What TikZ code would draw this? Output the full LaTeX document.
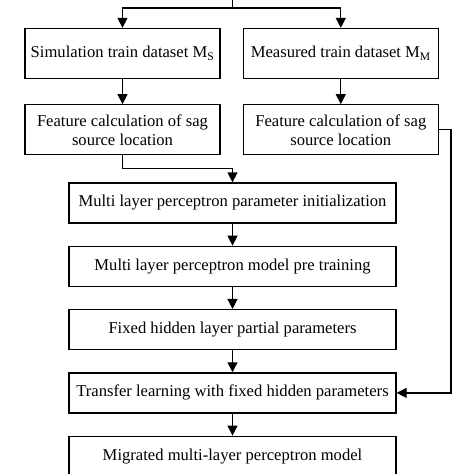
\documentclass[tikz,border=0pt]{standalone}
\usepackage{fontspec}
\setmainfont{Liberation Serif}
\usetikzlibrary{positioning,arrows.meta}

\begin{document}
\begin{tikzpicture}[x=1pt, y=1pt, node distance=22pt, line width=1.3pt,
    font=\fontsize{16.6}{19}\selectfont]
    % Define styles
    \tikzstyle{smallbox} = [draw, rectangle, minimum width=195pt, minimum height=50pt, align=center, inner sep=2pt]
    \tikzstyle{widebox} = [draw, rectangle, minimum width=327pt, minimum height=40pt, align=center, inner sep=2pt]
    \tikzstyle{flow} = [-{Triangle[length=10pt,width=10pt]}]

    \useasboundingbox (0,0) rectangle (474,-474);

    % DATASETS
    \coordinate (start) at (232.5,0);
    \coordinate (split) at (232.5,-8);
    \node (sim_data) [smallbox] at (122.5,-53.5) {Simulation train dataset M\textsubscript{S}};
    \node (meas_data) [smallbox, right=22pt of sim_data] {Measured train dataset M\textsubscript{M}};

    \node (sim_feat) [smallbox, below=25pt of sim_data] {Feature calculation of sag\\source location};
    \node (meas_feat) [smallbox, below=25pt of meas_data] {Feature calculation of sag\\source location};

    % MODEL
    \node (mlp_init) [widebox] at (232.5,-203) {Multi layer perceptron parameter initialization};
    \node (mlp_pre) [widebox, below=of mlp_init] {Multi layer perceptron model pre training};
    \node (fix_hidden) [widebox, below=of mlp_pre] {Fixed hidden layer partial parameters};
    \node (transfer) [widebox, below=of fix_hidden] {Transfer learning with fixed hidden parameters};
    \node (migrated) [widebox, below=of transfer] {Migrated multi-layer perceptron model};
    \coordinate (end) at (232.5,-474);

    % CONNECTIONS
    \draw (start) -- (split);
    \draw[flow] (split) -| (sim_data);
    \draw[flow] (split) -| (meas_data);
    \draw[flow] (sim_data) -- (sim_feat);
    \draw[flow] (meas_data) -- (meas_feat);
    \draw[flow] (sim_feat.south) -- ++(0,-13) -| (mlp_init.north);
    \draw[flow] (mlp_init) -- (mlp_pre);
    \draw[flow] (mlp_pre) -- (fix_hidden);
    \draw[flow] (fix_hidden) -- (transfer);
    \draw[flow] (transfer) -- (migrated);
    \draw (migrated) -- (end);

    % Measured features go straight to transfer learning
    \draw[flow] (meas_feat.east) -- ++(12,0) |- (transfer.east);

\end{tikzpicture}
\end{document}
